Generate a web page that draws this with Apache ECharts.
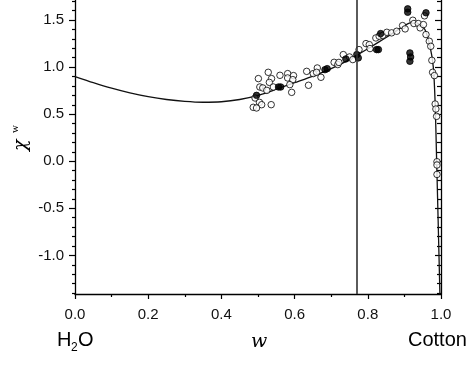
<!DOCTYPE html>
<html><head><meta charset="utf-8">
<script src="https://cdn.jsdelivr.net/npm/echarts@6/dist/echarts.min.js"></script>
<style>html,body{margin:0;padding:0;background:#fff}#c{width:474px;height:372px}</style>
</head><body><div id="c"></div>
<script>
// ---- data ----
const xTicks = [0, 0.2, 0.4, 0.6, 0.8, 1.0];
const yMajorTicks = [-1.0, -0.5, 0.0, 0.5, 1.0, 1.5];
const yMinorTicks = [-1.4,-1.3,-1.2,-1.1,-0.9,-0.8,-0.7,-0.6,-0.4,-0.3,-0.2,-0.1,0.1,0.2,0.3,0.4,0.6,0.7,0.8,0.9,1.1,1.2,1.3,1.4,1.6,1.7];
const yMin = -1.41, yMax = 1.713;
const verticalLineW = 0.773;
const fitCurve = [[0,0.90],[0.05,0.835],[0.1,0.776],[0.15,0.726],[0.2,0.686],[0.25,0.656],[0.3,0.636],[0.35,0.627],[0.4,0.632],[0.45,0.656],[0.5,0.70],[0.55,0.765],[0.6,0.835],[0.65,0.905],[0.7,0.985],[0.75,1.08],[0.8,1.195],[0.85,1.315],[0.88,1.39],[0.9,1.44],[0.92,1.475],[0.94,1.46],[0.956,1.40],[0.97,1.22],[0.979,1.0],[0.984,0.62],[0.988,0.02],[0.992,-0.6],[0.997,-1.41]];
const openPoints = [[0.501,0.878],[0.528,0.945],[0.537,0.878],[0.531,0.838],[0.505,0.789],[0.513,0.779],[0.524,0.753],[0.542,0.789],[0.560,0.913],[0.581,0.931],[0.597,0.910],[0.581,0.885],[0.595,0.867],[0.587,0.814],[0.592,0.732],[0.492,0.672],[0.504,0.626],[0.510,0.601],[0.487,0.573],[0.496,0.566],[0.536,0.601],[0.633,0.955],[0.638,0.807],[0.651,0.931],[0.662,0.991],[0.660,0.945],[0.672,0.892],[0.708,1.051],[0.718,1.027],[0.733,1.133],[0.721,1.05],[0.750,1.108],[0.759,1.080],[0.776,1.186],[0.795,1.250],[0.804,1.239],[0.806,1.197],[0.822,1.310],[0.831,1.328],[0.841,1.338],[0.852,1.370],[0.865,1.364],[0.879,1.381],[0.895,1.441],[0.902,1.406],[0.923,1.498],[0.926,1.463],[0.938,1.463],[0.943,1.417],[0.952,1.452],[0.959,1.346],[0.968,1.275],[0.972,1.221],[0.975,1.072],[0.977,0.945],[0.982,0.910],[0.984,0.608],[0.986,0.555],[0.988,0.477],[0.955,1.545],[0.989,-0.005],[0.989,-0.04],[0.989,-0.14]];
const filledPoints = [[0.496,0.700],[0.556,0.789],[0.562,0.789],[0.683,0.973],[0.689,0.984],[0.740,1.087],[0.770,1.133],[0.774,1.098],[0.824,1.186],[0.829,1.186],[0.835,1.356],[0.909,1.619],[0.909,1.583],[0.915,1.151],[0.917,1.108],[0.915,1.062],[0.959,1.577]];

const FONT = '"Liberation Sans", Arial, sans-serif';
const chart = echarts.init(document.getElementById('c'), null, {renderer:'canvas'});
const axisLine = {show:true, onZero:false, lineStyle:{color:'#000', width:1.3}};
function yAxisDef(pos, ticks, len, inside, labels, line){
  return {type:'value', position:pos, min:yMin, max:yMax,
    axisLine: line ? axisLine : {show:false},
    axisTick:{show:true, customValues:ticks, length:len, inside:inside, lineStyle:{color:'#000', width:1.2}},
    axisLabel: labels ? {show:true, customValues:ticks, formatter:v=>v.toFixed(1), fontFamily:FONT, fontSize:15, color:'#111', margin:11} : {show:false},
    splitLine:{show:false}};
}
chart.setOption({
  animation:false,
  backgroundColor:'#fff',
  grid:{left:75, right:33, top:0, bottom:78, containLabel:false},
  xAxis:{type:'value', min:0, max:1, interval:0.2,
    axisLine:axisLine,
    axisTick:{show:true, length:5, inside:false, lineStyle:{color:'#000', width:1.2}},
    minorTick:{show:true, splitNumber:2, length:3, lineStyle:{color:'#000', width:1.2}},
    axisLabel:{formatter:v=>v.toFixed(1), fontFamily:FONT, fontSize:15, color:'#111', margin:13},
    splitLine:{show:false}},
  yAxis:[
    yAxisDef('left', yMajorTicks, 6, false, true, true),
    yAxisDef('left', yMinorTicks, 3, false, false, false),
    yAxisDef('right', yMajorTicks, 6, true, false, true),
    yAxisDef('right', yMinorTicks, 4, true, false, false)
  ],
  series:[
    {type:'line', data:fitCurve, showSymbol:false, smooth:0.25,
     lineStyle:{color:'#111', width:1.3}, z:2,
     markLine:{silent:true, symbol:['none','none'], label:{show:false},
       lineStyle:{color:'#333', width:1.6, type:'solid'},
       data:[{xAxis:verticalLineW}]}},
    {type:'scatter', data:openPoints, symbol:'circle', symbolSize:6.5,
     itemStyle:{color:'#fff', borderColor:'#000', borderWidth:1}, z:3},
    {type:'scatter', data:filledPoints, symbol:'circle', symbolSize:6.5,
     itemStyle:{color:'#000', borderColor:'#000', borderWidth:1}, z:4}
  ],
  graphic:[
    {type:'text', left:57, top:330, style:{text:'H', font:'20px '+FONT, fill:'#000'}},
    {type:'text', left:71, top:342, style:{text:'2', font:'12px '+FONT, fill:'#000'}},
    {type:'text', left:78, top:330, style:{text:'O', font:'20px '+FONT, fill:'#000'}},
    {type:'text', left:251, top:333, style:{text:'w', font:'italic 19px "DejaVu Serif", "Liberation Serif", serif', fill:'#000'}},
    {type:'text', left:408, top:330, style:{text:'Cotton', font:'20px '+FONT, fill:'#000'}},
    {type:'text', x:12, y:151, rotation:Math.PI/2, style:{text:'χ', font:'italic 19px "DejaVu Serif", "Liberation Serif", serif', fill:'#000'}},
    {type:'text', x:10, y:133, rotation:Math.PI/2, style:{text:'w', font:'11px "Liberation Serif", serif', fill:'#000'}}
  ]
});
</script></body></html>
